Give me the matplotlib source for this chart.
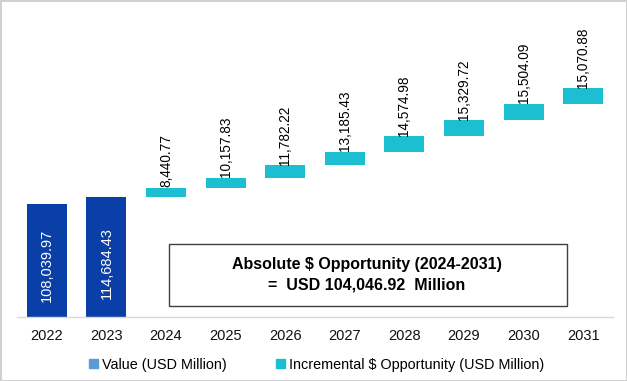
import numpy as np
import matplotlib.pyplot as plt
from matplotlib.patches import Rectangle, Patch

plt.rcParams['font.family'] = ['Liberation Sans', 'DejaVu Sans']

# data
years = ['2022', '2023', '2024', '2025', '2026', '2027', '2028', '2029', '2030', '2031']
values = [108039.97, 114684.43]
increments = [8440.77, 10157.83, 11782.22, 13185.43, 14574.98, 15329.72, 15504.09, 15070.88]
box_lines = ['Absolute $ Opportunity (2024-2031)', '=  USD 104,046.92  Million']
legend_labels = ['Value (USD Million)', 'Incremental $ Opportunity (USD Million)']

dark_blue = '#0A3FA8'
light_blue = '#5B9BD5'
cyan = '#1CBFD1'

W, H = 627, 381
fig = plt.figure(figsize=(W / 100, H / 100), dpi=100)
fig.patch.set_facecolor('white')
fig.patch.set_edgecolor('#D0D0D0')
fig.patch.set_linewidth(2)

# axes in pixel box: x 17..613, y (from top) 10..316.5
ax = fig.add_axes([17 / W, (H - 316.5) / H, 596 / W, 306.5 / H])
ax.set_facecolor('none')

x = np.arange(len(years))
n_val = len(values)

ax.bar(x[:n_val], values, width=0.67, color=dark_blue, zorder=2)
for i, v in enumerate(values):
    ax.text(x[i], v * 0.45, f'{v:,.2f}', rotation=90, ha='center', va='center',
            color='white', fontsize=10.5, zorder=3)

bottoms = values[-1] + np.concatenate([[0], np.cumsum(increments)[:-1]])
ax.bar(x[n_val:], increments, bottom=bottoms, width=0.67, color=cyan, zorder=2)
for i, (b, inc) in enumerate(zip(bottoms, increments)):
    ax.annotate(f'{inc:,.2f}', (x[n_val + i], b + inc), xytext=(0, 0.5),
                textcoords='offset points', rotation=90, ha='center', va='bottom',
                fontsize=9.8, color='black', zorder=3)

ax.set_xlim(-0.5, len(years) - 0.5)
ax.set_ylim(0, 294000)
ax.set_xticks(x)
ax.set_xticklabels(years, fontsize=10.5, color='#111111')
ax.tick_params(axis='x', length=0, pad=9)
ax.set_yticks([])
for s in ['top', 'right', 'left']:
    ax.spines[s].set_visible(False)
ax.spines['bottom'].set_color('#D9D9D9')
ax.spines['bottom'].set_linewidth(1)

# annotation box
fig.patches.append(Rectangle((169 / W, (H - 306) / H), 398 / W, 62 / H,
                             transform=fig.transFigure, facecolor='white',
                             edgecolor='#404040', linewidth=1, zorder=5))
fig.text(367 / W, (H - 265) / H, box_lines[0], ha='center', va='center',
         fontsize=11.5, fontweight='bold', zorder=6)
fig.text(367 / W, (H - 285) / H, box_lines[1], ha='center', va='center',
         fontsize=11.5, fontweight='bold', zorder=6)

handles = [Patch(color=light_blue), Patch(color=cyan)]
fig.legend(handles, legend_labels, loc='center', bbox_to_anchor=(317 / W, (H - 365) / H),
           ncol=2, frameon=False, fontsize=10.4, handlelength=0.6, handleheight=0.6,
           handletextpad=0.3, columnspacing=3.4)

fig.savefig('out.png', dpi=100)
